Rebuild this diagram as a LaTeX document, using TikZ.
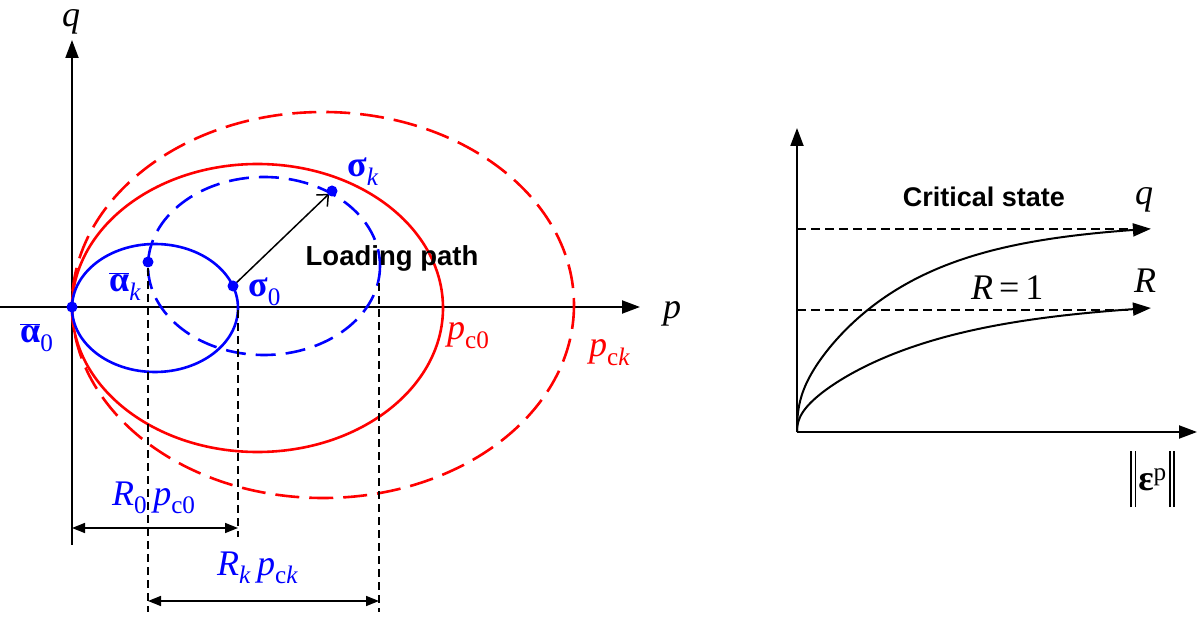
\documentclass[tikz,border=0pt]{standalone}
\usepackage{fontspec}
\setmainfont{Liberation Serif}
\setsansfont{Liberation Sans}
\usetikzlibrary{arrows.meta}
\definecolor{myred}{RGB}{255,0,0}
\definecolor{myblue}{RGB}{0,0,255}
\newcommand{\bsig}{\textbf{σ}}
\newcommand{\balp}{$\overline{\mbox{\textbf{α}}}$}
\newcommand{\dbar}{\rule[-17pt]{1.8pt}{56pt}\hspace{2.5pt}\rule[-17pt]{1.8pt}{56pt}}
\begin{document}
\begin{tikzpicture}[x=1pt,y=-1pt,
  axis/.style={line width=2pt,-{Triangle[length=18pt,width=13pt]}},
  dimarrow/.style={line width=1.5pt,{Triangle[length=13pt,width=10pt]}-{Triangle[length=13pt,width=10pt]}},
  guide/.style={line width=1.3pt,dash pattern=on 8pt off 5pt},
  redsolid/.style={draw=myred,line width=2.6pt},
  reddash/.style={draw=myred,line width=2.6pt,dash pattern=on 24pt off 10pt},
  bluesolid/.style={draw=myblue,line width=2.6pt},
  bluedash/.style={draw=myblue,line width=2.6pt,dash pattern=on 20pt off 10pt},
  curve/.style={line width=2pt,-{Triangle[length=18pt,width=13pt]}},
  lbl/.style={inner sep=0pt,font=\fontsize{36}{40}\selectfont},
  sans/.style={inner sep=0pt,font=\fontsize{27.5}{30}\selectfont\sffamily\bfseries},
  dot/.style={fill=myblue}
]
\useasboundingbox (0,0) rectangle (1200,620);
% ---------- left diagram ----------
\coordinate (O) at (72,307);
\coordinate (qtop) at (72,40);
\coordinate (qbot) at (72,545);
\coordinate (pleft) at (0,307);
\coordinate (pright) at (640,307);
\draw[line width=2pt] (O) -- (qbot);
\draw[axis] (O) -- (qtop);
\draw[axis] (pleft) -- (pright);
\node[lbl,anchor=base] (qlab) at (71,27) {\textit{q}};
\node[lbl,anchor=base] (plab) at (672,319) {\textit{p}};

% ellipses
\draw[reddash] (323,305) ellipse [x radius=251, y radius=193];
\draw[redsolid] (257.5,308) ellipse [x radius=185.5, y radius=144];
\draw[bluedash] (264,266) ellipse [x radius=116, y radius=89];
\draw[bluesolid] (155,308) ellipse [x radius=83, y radius=64];

% points
\coordinate (a0) at (72,307);
\coordinate (ak) at (148,262);
\coordinate (s0) at (233,286);
\coordinate (sk) at (332,191);

% guide lines
\coordinate (g1t) at (148,268);
\coordinate (g1b) at (148,612);
\coordinate (g2t) at (238,310);
\coordinate (g2b) at (238,537);
\coordinate (g3t) at (379,283);
\coordinate (g3b) at (379,612);
\draw[guide] (g1t) -- (g1b);
\draw[guide] (g2t) -- (g2b);
\draw[guide] (g3t) -- (g3b);

% dimension arrows
\coordinate (d1a) at (72,528);
\coordinate (d1b) at (238,528);
\coordinate (d2a) at (148,601);
\coordinate (d2b) at (379,601);
\draw[dimarrow] (d1a) -- (d1b);
\draw[dimarrow] (d2a) -- (d2b);

% loading path
\draw[line width=1.5pt,shorten >=4pt,-{Straight Barb[length=9pt,width=16pt]}] (s0) -- (sk);

\fill[dot] (a0) circle[radius=5.5];
\fill[dot] (ak) circle[radius=5.5];
\fill[dot] (s0) circle[radius=5.5];
\fill[dot] (sk) circle[radius=5.5];

% labels
\node[lbl,text=myblue,anchor=base west] (sklab) at (347,177) {\bsig\textsubscript{\textit{k}}};
\node[lbl,text=myblue,anchor=base west] (s0lab) at (248,297) {\bsig\textsubscript{0}};
\node[lbl,text=myblue,anchor=base west] (aklab) at (109,292) {\balp\textsubscript{\textit{k}}};
\node[lbl,text=myblue,anchor=base west] (a0lab) at (20,343) {\balp\textsubscript{0}};
\node[lbl,text=myred,anchor=base west] (pc0lab) at (447,340) {\textit{p}\textsubscript{c0}};
\node[lbl,text=myred,anchor=base west] (pcklab) at (589,357) {\textit{p}\textsubscript{c\textit{k}}};
\node[lbl,text=myblue,anchor=base west] (r0lab) at (112,505) {\textit{R}\textsubscript{0}\,\textit{p}\textsubscript{c0}};
\node[lbl,text=myblue,anchor=base west] (rklab) at (217,575) {\textit{R}\textsubscript{\textit{k}}\,\textit{p}\textsubscript{c\textit{k}}};
\node[sans] (load) at (392,258) {Loading path};

% ---------- right diagram ----------
\coordinate (O2) at (797,432);
\coordinate (ytop) at (797,128);
\coordinate (xend) at (1197,432);
\draw[axis] (O2) -- (ytop);
\draw[axis] (O2) -- (xend);
\coordinate (dq) at (797,229);
\coordinate (dqe) at (1142,229);
\coordinate (dr) at (797,310);
\coordinate (dre) at (1140,310);
\draw[line width=1.3pt,dash pattern=on 9pt off 5pt] (dq) -- (dqe);
\draw[line width=1.3pt,dash pattern=on 9pt off 5pt] (dr) -- (dre);
\draw[curve] plot[domain=0:18.815,samples=120,variable=\s]
  ({797+\s*\s},{432-45*(1-exp(-\s/2))-165*(1-exp(-\s*\s/111))});
\draw[curve] plot[domain=0:18.815,samples=120,variable=\s]
  ({797+\s*\s},{432-25*(1-exp(-\s/2.5))-107.6*(1-exp(-\s*\s/140))});
\node[sans,font=\fontsize{27}{30}\selectfont\sffamily\bfseries] (crit) at (984,197) {Critical state};
\node[lbl,anchor=base] (q2lab) at (1144,205) {\textit{q}};
\node[lbl,anchor=base] (r2lab) at (1145,293) {\textit{R}};
\node[lbl,anchor=base west] (r1lab) at (971,300) {\textit{R}\hspace{6pt}=\hspace{6pt}1};
\node[lbl,anchor=base west] (eplab) at (1130,490) {\dbar\hspace{2pt}\textbf{ε}\textsuperscript{p}\hspace{2pt}\dbar};
\end{tikzpicture}
\end{document}
